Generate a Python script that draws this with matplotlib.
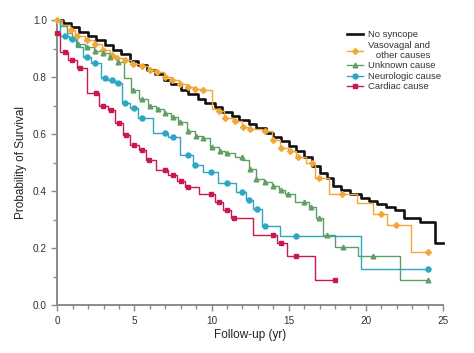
import numpy as np
import matplotlib
matplotlib.use("Agg")
import matplotlib.pyplot as plt
from matplotlib.ticker import MultipleLocator

plt.rcParams['font.family'] = ['Liberation Sans', 'DejaVu Sans']

# ---------------- data (Kaplan-Meier step curves) ----------------
labels = ["No syncope", "Vasovagal and\n   other causes", "Unknown cause",
          "Neurologic cause", "Cardiac cause"]

none_t = [0, 0.4, 0.9, 1.4, 2.0, 2.5, 3.1, 3.6, 4.1, 4.7, 5.2, 5.8, 6.3, 6.9, 7.4, 8.0,
          8.5, 9.1, 9.6, 10.2, 10.7, 11.3, 11.8, 12.4, 12.9, 13.5, 14.0, 14.5, 15.0,
          15.5, 16.0, 16.5, 17.0, 17.5, 17.9, 18.4, 19.0, 19.7, 20.2, 20.7, 21.3, 21.9,
          22.5, 23.5, 24.5]
none_s = [1.0, 0.99, 0.975, 0.96, 0.945, 0.93, 0.915, 0.895, 0.88, 0.858, 0.842, 0.827,
          0.81, 0.792, 0.775, 0.757, 0.74, 0.725, 0.71, 0.695, 0.68, 0.665, 0.65, 0.636,
          0.621, 0.606, 0.59, 0.575, 0.56, 0.54, 0.52, 0.49, 0.465, 0.445, 0.42, 0.405,
          0.39, 0.375, 0.365, 0.355, 0.345, 0.333, 0.306, 0.293, 0.22]
none_end = 25.0
none_m = []

vaso_t = [0, 0.3, 0.8, 1.15, 1.8, 2.35, 2.9, 3.4, 3.75, 4.3, 4.8, 5.35, 5.9, 6.35, 6.9,
          7.35, 7.9, 8.4, 8.85, 9.35, 10.0, 10.4, 10.8, 11.4, 11.95, 12.4, 13.3, 13.9,
          14.45, 14.95, 15.5, 16.1, 16.7, 17.6, 19.4, 20.45, 21.4, 22.95]
vaso_s = [1.0, 0.985, 0.965, 0.945, 0.93, 0.918, 0.897, 0.878, 0.866, 0.86, 0.848,
          0.838, 0.825, 0.818, 0.802, 0.79, 0.775, 0.765, 0.758, 0.755, 0.69, 0.683,
          0.656, 0.648, 0.627, 0.619, 0.613, 0.58, 0.552, 0.54, 0.521, 0.498, 0.447,
          0.39, 0.358, 0.319, 0.282, 0.188]
vaso_end = 24.0
vaso_m = [0, 0.89, 1.25, 1.9, 2.44, 2.98, 3.52, 3.85, 4.38, 4.92, 5.47, 6.0, 6.44, 6.98,
          7.41, 7.95, 8.48, 8.92, 9.46, 10.45, 10.86, 11.5, 12.05, 12.48, 13.45, 14.0,
          14.53, 15.07, 15.6, 16.48, 16.95, 18.48, 20.97, 21.98, 24.0]

unk_t = [0, 0.15, 0.6, 0.95, 1.3, 1.8, 2.35, 2.9, 3.35, 3.85, 4.3, 4.8, 5.3, 5.9, 6.4,
         6.9, 7.4, 7.85, 8.4, 8.9, 9.4, 9.9, 10.5, 10.9, 11.5, 11.95, 12.4, 12.85, 13.4,
         13.9, 14.4, 14.75, 15.4, 16.32, 16.76, 17.19, 17.98, 19.5, 22.24]
unk_s = [1.0, 0.98, 0.955, 0.93, 0.918, 0.905, 0.893, 0.884, 0.872, 0.855, 0.797, 0.757,
         0.724, 0.70, 0.69, 0.675, 0.662, 0.644, 0.61, 0.593, 0.586, 0.556, 0.54, 0.533,
         0.52, 0.51, 0.477, 0.443, 0.433, 0.418, 0.406, 0.39, 0.364, 0.346, 0.305,
         0.245, 0.205, 0.173, 0.089]
unk_end = 24.0
unk_m = [1.36, 1.9, 2.44, 2.98, 3.41, 3.95, 4.92, 5.47, 6.0, 6.5, 7.0, 7.5, 7.95, 8.48,
         8.96, 9.46, 10.0, 10.54, 10.97, 11.94, 12.48, 12.91, 13.45, 13.95, 14.47, 14.96,
         15.98, 16.47, 16.97, 17.45, 18.5, 20.47, 24.0]

neuro_t = [0, 0.2, 0.75, 1.2, 1.65, 2.2, 2.8, 3.3, 3.75, 4.2, 4.7, 5.2, 6.22, 7.2, 7.95,
           8.77, 9.46, 10.43, 11.6, 12.22, 12.7, 13.24, 14.42, 19.71]
neuro_s = [1.0, 0.946, 0.934, 0.905, 0.872, 0.849, 0.797, 0.791, 0.779, 0.709, 0.691,
           0.656, 0.604, 0.589, 0.527, 0.492, 0.469, 0.43, 0.399, 0.369, 0.337, 0.277,
           0.243, 0.126]
neuro_end = 24.0
neuro_m = [0.5, 0.93, 1.9, 2.44, 3.09, 3.52, 3.95, 4.38, 4.95, 5.47, 6.98, 7.47, 8.48,
           8.92, 9.96, 10.97, 11.94, 12.43, 12.95, 13.45, 15.46, 24.0]

card_t = [0, 0.17, 0.71, 1.25, 1.94, 2.72, 3.3, 3.74, 4.27, 4.71, 5.3, 5.75, 6.39, 7.2,
          7.75, 8.25, 9.2, 10.2, 10.75, 11.25, 12.69, 14.21, 14.9, 16.69]
card_s = [0.957, 0.888, 0.861, 0.832, 0.746, 0.699, 0.685, 0.641, 0.598, 0.562, 0.545,
          0.51, 0.473, 0.457, 0.437, 0.416, 0.391, 0.361, 0.334, 0.305, 0.247, 0.217,
          0.173, 0.089]
card_end = 18.0
card_m = [0, 0.5, 0.93, 1.47, 2.49, 2.98, 3.48, 3.98, 4.45, 4.97, 5.51, 5.96, 6.98, 7.47,
          7.99, 8.49, 9.96, 10.47, 10.97, 11.47, 13.95, 14.47, 15.46, 17.98]

series = [
    (none_t, none_s, none_end, none_m, "#111111", None, 1.9),
    (vaso_t, vaso_s, vaso_end, vaso_m, "#F2A737", "D", 1.0),
    (unk_t, unk_s, unk_end, unk_m, "#5F9F66", "^", 1.0),
    (neuro_t, neuro_s, neuro_end, neuro_m, "#2CA6C3", "o", 1.0),
    (card_t, card_s, card_end, card_m, "#C8194F", "s", 1.0),
]

# ---------------- figure ----------------
fig = plt.figure(figsize=(4.74, 3.53), dpi=100)
ax = fig.add_axes([0.1209, 0.1351, 0.8137, 0.8074])

msize = {"D": 3.0, "^": 3.4, "o": 3.6, "s": 3.2}
handles = []
for (t, s, tend, mt, col, mk, lw), lab in zip(series, labels):
    tt = np.append(np.array(t, float), tend)
    ss = np.append(np.array(s, float), s[-1])
    ax.step(tt, ss, where="post", color=col, lw=lw, clip_on=False, zorder=3)
    if mk is not None and len(mt):
        mt = np.array(mt, float)
        idx = np.searchsorted(np.array(t, float), mt, side="right") - 1
        my = np.array(s, float)[idx]
        ax.plot(mt, my, ls="none", marker=mk, color=col, ms=msize[mk],
                mec=col, clip_on=False, zorder=4)
    h, = ax.plot([], [], color=col, lw=lw if mk is None else 1.0,
                 marker=mk if mk else None, ms=msize.get(mk, 0) if mk else 0)
    handles.append(h)

ax.set_xlim(0, 25)
ax.set_ylim(0, 1.0)
ax.xaxis.set_major_locator(MultipleLocator(5))
ax.xaxis.set_minor_locator(MultipleLocator(1))
ax.yaxis.set_major_locator(MultipleLocator(0.2))
ax.yaxis.set_minor_locator(MultipleLocator(0.1))
ax.yaxis.set_major_formatter(matplotlib.ticker.FormatStrFormatter("%.1f"))

for sp in ["top", "right"]:
    ax.spines[sp].set_visible(False)
for sp in ["left", "bottom"]:
    ax.spines[sp].set_color("#8a8a8a")
    ax.spines[sp].set_linewidth(1.4)
ax.tick_params(which="both", direction="out", color="#8a8a8a", width=1.0,
               labelsize=7.2, labelcolor="#333333")
ax.tick_params(which="major", length=4)
ax.tick_params(which="minor", length=3)

ax.set_xlabel("Follow-up (yr)", fontsize=8.5, color="#222222", labelpad=2)
ax.set_ylabel("Probability of Survival", fontsize=8.5, color="#222222", labelpad=4)

fig.legend(handles, labels, loc="upper left", bbox_to_anchor=(0.725, 0.925),
           frameon=False, fontsize=6.8, handlelength=1.6, handletextpad=0.6,
           labelspacing=0.15, borderaxespad=0, labelcolor="#333333")

fig.savefig("out.png", dpi=100)
